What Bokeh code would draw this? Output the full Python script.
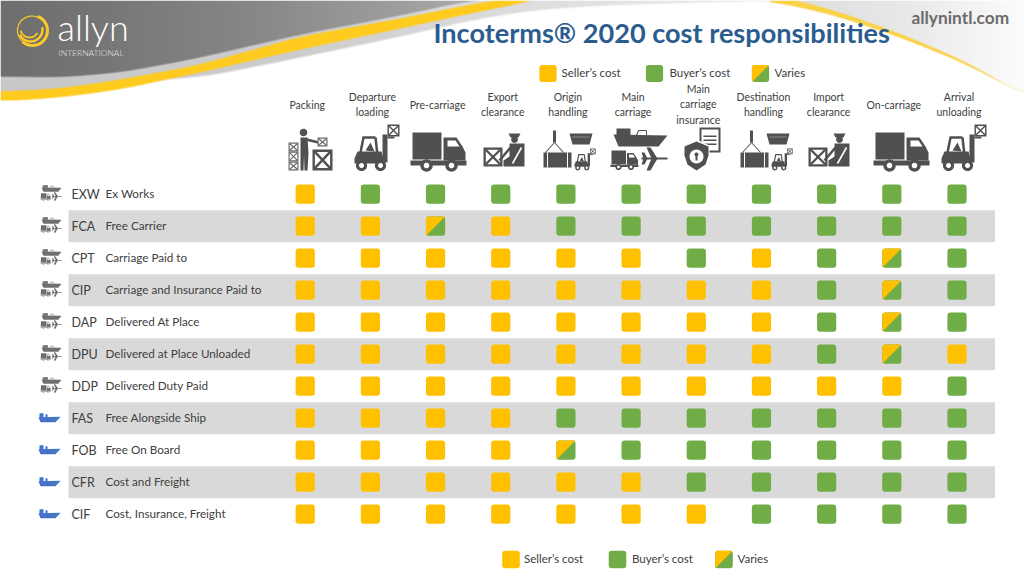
import numpy as np
from bokeh.core.properties import value
from bokeh.embed import file_html
from bokeh.models import Range1d
from bokeh.plotting import figure
from bokeh.resources import INLINE

TITLE = "Incoterms® 2020 cost responsibilities"
COLUMNS = ["Packing", "Departure\nloading", "Pre-carriage", "Export\nclearance", "Origin\nhandling",
           "Main\ncarriage", "Main\ncarriage\ninsurance", "Destination\nhandling", "Import\nclearance",
           "On-carriage", "Arrival\nunloading"]
CODES = ["EXW", "FCA", "CPT", "CIP", "DAP", "DPU", "DDP", "FAS", "FOB", "CFR", "CIF"]
NAMES = ["Ex Works", "Free Carrier", "Carriage Paid to", "Carriage and Insurance Paid to", "Delivered At Place",
         "Delivered at Place Unloaded", "Delivered Duty Paid", "Free Alongside Ship", "Free On Board",
         "Cost and Freight", "Cost, Insurance, Freight"]
MODES = ["any", "any", "any", "any", "any", "any", "any", "sea", "sea", "sea", "sea"]
# S seller, B buyer, V varies
EXW = list("SBBBBBBBBBB")
FCA = list("SSVSBBBBBBB")
CPT = list("SSSSSSBSBVB")
CIP = list("SSSSSSSSBVB")
DAP = list("SSSSSSSSBVB")
DPU = list("SSSSSSSSBVS")
DDP = list("SSSSSSSSSSB")
FAS = list("SSSSBBBBBBB")
FOB = list("SSSSVBBBBBB")
CFR = list("SSSSSSBBBBB")
CIF = list("SSSSSSSBBBB")
TERMS = [EXW, FCA, CPT, CIP, DAP, DPU, DDP, FAS, FOB, CFR, CIF]
LEGEND_LABELS = ["Seller’s cost", "Buyer’s cost", "Varies"]
LEGEND_CODES = ["S", "B", "V"]

YELLOW = "#ffc000"
GREEN = "#70ad47"
BAND = "#d9d9d9"
TEXT = "#404040"
ICON = "#505052"
FONT = value("Lato")
LIGHT_FONT = value("Lato Light, Lato")

# reference pixel of cell (0, 0) and step between cells
X0, DX = 304.7, 65.18
Y0, DY = 193.7, 32.0
CELL = 9.6
W, H = 1024, 576


def rounded_half(s, r):
    # top left half of a rounded square, offsets in pixels
    a = np.linspace(np.pi * 1.5, np.pi, 7)
    xs = [s] + list(-s + r + r * np.cos(a)) + [-s]
    ys = [-s] + list(-s + r + r * np.sin(a)) + [s]
    return np.array(xs), np.array(ys)


p = figure(width=W, height=H, output_backend="svg", toolbar_location=None, min_border=0,
           x_range=Range1d(-X0 / DX, (W - X0) / DX), y_range=Range1d((H - Y0) / DY, -Y0 / DY))
p.extra_x_ranges["px"] = Range1d(0, W)
p.extra_y_ranges["px"] = Range1d(H, 0)
p.axis.visible = False
p.grid.visible = False
p.outline_line_color = None
p.background_fill_color = "white"
p.border_fill_color = "white"
PX = dict(x_range_name="px", y_range_name="px")


# banner, painted as a small picture because of its gradients
def banner():
    w, h = 1024, 100
    X, Y = np.meshgrid(np.arange(w) + 0.5, np.arange(h) + 0.5)
    xs = X[0]

    def curve(knots):
        k = np.array(knots, dtype=float)
        c = np.interp(xs, k[:, 0], k[:, 1])
        return np.convolve(np.pad(c, 25, mode="edge"), np.ones(51) / 51, mode="valid")

    def above(c, soft=1.3):
        return np.clip((c - Y) / soft + 0.5, 0, 1)

    dark_bot = curve([(0, 76), (60, 77), (120, 72), (180, 61), (200, 57), (300, 34), (400, 15), (470, 0), (1024, -30)])
    yel_top = curve([(0, 91), (60, 88), (120, 79), (180, 68), (200, 64), (300, 36), (400, 18), (470, 4), (525, -5), (1024, -30)])
    yel_bot = curve([(0, 101), (60, 97), (120, 89), (180, 76), (200, 72), (300, 49), (400, 28), (470, 13), (525, 2), (560, -8), (1024, -30)])
    light_bot = curve([(0, 101), (180, 77), (200, 77), (300, 57), (400, 36), (470, 20), (530, 10), (600, 5), (700, 2),
                       (775, 0), (833, 12), (900, 35), (967, 63), (1010, 87), (1024, 95)])
    sw_mid = curve([(770, -3), (833, 12), (900, 35), (967, 63), (1010, 87), (1024, 95)])
    sw_half = np.interp(xs, [770, 833, 900, 967, 1010], [3.5, 2.6, 2, 1.2, 0.1])

    img = np.full((h, w, 3), 255.0)
    light = np.interp(xs, [0, 300, 500, 700, 800, 900, 1024], [200, 205, 220, 232, 222, 232, 252])
    dark = np.interp(xs, [0, 100, 250, 400, 470], [110, 118, 135, 158, 170])

    def paint(color, mask):
        for i in range(3):
            c = color[i] if isinstance(color, tuple) else color
            img[:, :, i] = img[:, :, i] * (1 - mask) + c * mask

    paint(light, above(light_bot, 2.0))
    paint(dark, above(dark_bot))
    paint((255, 203, 31), above(yel_bot) * (1 - above(yel_top)))
    sw = np.clip(sw_half - np.abs(Y - sw_mid) + 0.5, 0, 1) * (xs > 770)
    paint((250, 210, 70), sw)

    rgba = np.zeros((h, w), dtype=np.uint32)
    view = rgba.view(dtype=np.uint8).reshape((h, w, 4))
    view[:, :, :3] = img.astype(np.uint8)
    view[:, :, 3] = 255
    return rgba


p.image_rgba(image=[banner()], x=0, y=0, dw=1024, dh=100, **PX)

# icon shapes, drawn in order so white can cut into the dark parts
shape_x, shape_y, shape_c = [], [], []


def add(pts, ox, oy, s, color):
    shape_x.append([ox + s * a for a, b in pts])
    shape_y.append([oy + s * b for a, b in pts])
    shape_c.append(color)


def box(x0, y0, x1, y1):
    return [(x0, y0), (x1, y0), (x1, y1), (x0, y1)]


def seg(x0, y0, x1, y1, w):
    n = np.hypot(x1 - x0, y1 - y0)
    ax, ay = -(y1 - y0) / n * w / 2, (x1 - x0) / n * w / 2
    return [(x0 + ax, y0 + ay), (x1 + ax, y1 + ay), (x1 - ax, y1 - ay), (x0 - ax, y0 - ay)]


def disc(cx, cy, r):
    return [(cx + r * np.cos(t), cy + r * np.sin(t)) for t in np.linspace(0, 2 * np.pi, 24)]


def crate(x0, y0, x1, y1, ox, oy, s, color):
    t = (x1 - x0) * 0.12
    add(box(x0, y0, x1, y1), ox, oy, s, color)
    add(box(x0 + t, y0 + t, x1 - t, y1 - t), ox, oy, s, "white")
    add(seg(x0 + t, y0 + t, x1 - t, y1 - t, t), ox, oy, s, color)
    add(seg(x1 - t, y0 + t, x0 + t, y1 - t, t), ox, oy, s, color)


def wheel(cx, cy, r, ox, oy, s, color):
    add(disc(cx, cy, r), ox, oy, s, color)
    add(disc(cx, cy, r * 0.45), ox, oy, s, "white")


def truck(ox, oy, s=1.0, color=ICON):
    add(box(2, 0, 31, 27), ox, oy, s, color)
    add([(33, 5), (46, 5), (52, 14), (55, 20), (55, 28), (33, 28)], ox, oy, s, color)
    add([(37, 8), (45, 8), (49, 14), (37, 14)], ox, oy, s, "white")
    add(box(0, 28, 56, 33), ox, oy, s, color)
    wheel(16, 33, 6.2, ox, oy, s, color)
    wheel(41, 33, 6.2, ox, oy, s, color)


def forklift(ox, oy, s=1.0, color=ICON):
    crate(33, 0, 45, 12, ox, oy, s, color)
    add(box(28, 10, 33, 38), ox, oy, s, color)
    add(box(33, 12, 40, 14), ox, oy, s, color)
    add(seg(6, 28, 9, 13, 2.5), ox, oy, s, color)
    add(seg(8, 13, 21, 13, 2.5), ox, oy, s, color)
    add(seg(21, 13, 23, 31, 2.5), ox, oy, s, color)
    add([(11, 26), (16, 18), (20, 27)], ox, oy, s, color)
    add([(0, 34), (3, 27), (27, 27), (30, 39), (0, 39)], ox, oy, s, color)
    wheel(7, 41, 5.6, ox, oy, s, color)
    wheel(26, 41, 5.6, ox, oy, s, color)


def packer(ox, oy, s=1.0, color=ICON):
    crate(0, 15, 10, 24, ox, oy, s, "#6a6a6c")
    crate(0, 24, 10, 34, ox, oy, s, "#6a6a6c")
    crate(0, 34, 10, 43, ox, oy, s, "#6a6a6c")
    add(disc(15, 5, 3.8), ox, oy, s, color)
    add([(12, 10), (19, 10), (20, 26), (19, 43), (16, 43), (15.5, 28), (15, 43), (12, 43)], ox, oy, s, color)
    add(seg(18, 12, 30, 15, 2.5), ox, oy, s, color)
    crate(29, 10, 39, 19, ox, oy, s, "#6a6a6c")
    crate(24, 22, 44, 43, ox, oy, s, color)


def officer(ox, oy, s=1.0, color=ICON):
    crate(0, 15, 19, 34, ox, oy, s, color)
    add([(25, 1), (37, 1), (35, 5), (27, 5)], ox, oy, s, color)
    add(disc(31, 7, 3.4), ox, oy, s, color)
    add([(26, 11), (41, 11), (41, 34), (20, 34), (20, 28), (26, 24)], ox, oy, s, color)
    add(seg(29, 31, 38, 15, 1.6), ox, oy, s, "white")
    add(seg(16, 28, 27, 15, 2.5), ox, oy, s, color)


def handling(ox, oy, s=1.0, color=ICON):
    add(seg(11, 2, 11, 14, 3), ox, oy, s, color)
    add(seg(11, 14, 2, 24, 1), ox, oy, s, color)
    add(seg(11, 14, 20, 24, 1), ox, oy, s, color)
    add(box(0, 24, 28, 39), ox, oy, s, color)
    add(box(3.5, 24, 4.5, 39), ox, oy, s, "white")
    add(box(23.5, 24, 24.5, 39), ox, oy, s, "white")
    add([(26, 5), (49, 5), (46, 16), (29, 16)], ox, oy, s, color)
    add(box(29, 8, 46, 9), ox, oy, s, "#8a8a8c")
    forklift(ox + 31 * s, oy + 20 * s, 0.47 * s, color)


def carriage(ox, oy, s=1.0, color=ICON):
    add([(3, 6), (57, 7), (48, 18), (8, 18)], ox, oy, s, color)
    add(box(6, 0, 20, 7), ox, oy, s, color)
    add(seg(26, 7, 28, 2, 1), ox, oy, s, color)
    add(seg(28, 2, 36, 2, 1), ox, oy, s, color)
    add(seg(36, 2, 36, 7, 1), ox, oy, s, color)
    truck(ox, oy + 22 * s, 0.5 * s, color)
    add(seg(31, 30, 57, 30, 2.2), ox, oy, s, color)
    add([(41, 30), (36, 19), (40, 19), (47, 30), (40, 42), (36, 42)], ox, oy, s, color)
    add([(31, 24), (34, 24), (37, 30), (34, 36), (31, 36), (33, 30)], ox, oy, s, color)


def insurance(ox, oy, s=1.0, color=ICON):
    add(box(16, 0, 37, 25), ox, oy, s, color)
    add(box(18, 2, 35, 23), ox, oy, s, "white")
    for ly in (8, 12, 16):
        add(box(20, ly, 33, ly + 1.5), ox, oy, s, color)
    add([(13, 12), (26, 18), (26, 28), (22, 37), (13, 43), (4, 37), (0, 28), (0, 18)], ox, oy, s, "white")
    add([(13, 14), (25, 19), (25, 28), (22, 37), (13, 43), (4, 37), (1, 28), (1, 19)], ox, oy, s, color)
    add(disc(13, 29, 7), ox, oy, s, "white")
    add(disc(13, 27, 2), ox, oy, s, color)
    add(box(12, 27, 14, 33), ox, oy, s, color)


packer(288, 127)
forklift(354, 124)
truck(410, 132)
officer(483, 132)
handling(543, 128)
carriage(610, 128)
insurance(683, 127)
handling(740, 128)
officer(808, 132)
truck(873, 132)
forklift(941, 124)

# small mode icon in front of each term
for j, mode in enumerate(MODES):
    row_y = Y0 + DY * j
    if mode == "any":
        carriage(40, row_y - 9, 0.37, "#6e6e70")
    else:
        add([(38, row_y - 1), (60, row_y - 1.5), (55, row_y + 4), (40, row_y + 4)], 0, 0, 1, "#4472c4")
        add(box(39, row_y - 5, 43, row_y), 0, 0, 1, "#4472c4")
        add(box(45, row_y - 4, 47, row_y), 0, 0, 1, "#4472c4")

# logo rings
for r, w, sa, sb, cx, cy in [(15, 3.0, -1.2, 2.3, 32, 30), (12, 2.4, -0.2, 2.7, 30, 29), (9, 1.8, 0.5, 2.9, 29, 28),
                             (14.5, 1.2, 2.3, 5.2, 31.5, 30)]:
    t = np.linspace(sa, sb, 30)
    pts = [(cx + (r + w / 2) * np.cos(a), cy + (r + w / 2) * np.sin(a)) for a in t]
    pts += [(cx + (r - w / 2) * np.cos(a), cy + (r - w / 2) * np.sin(a)) for a in t[::-1]]
    add(pts, 0, 0, 1, "#fbc92a")

p.patches(xs=shape_x, ys=shape_y, fill_color=shape_c, line_color=None, **PX)

# grey bands behind every other term
band_rows = list(range(1, len(CODES), 2))
p.quad(left=(68 - X0) / DX, right=(994.5 - X0) / DX, bottom=[j + 0.5 for j in band_rows],
       top=[j - 0.5 for j in band_rows], fill_color=BAND, line_color=None)

# the cells
cell_x, cell_y, cell_c = [], [], []
for j, row in enumerate(TERMS):
    for i, code in enumerate(row):
        cell_x.append(i)
        cell_y.append(j)
        cell_c.append(YELLOW if code == "S" else GREEN)
hw, hh = CELL / DX, CELL / DY
p.quad(left=[v - hw for v in cell_x], right=[v + hw for v in cell_x], bottom=[v + hh for v in cell_y],
       top=[v - hh for v in cell_y], fill_color=cell_c, line_color=None, border_radius=3)

tx, ty = rounded_half(CELL, 3)
var_x, var_y = [], []
for j, row in enumerate(TERMS):
    for i, code in enumerate(row):
        if code == "V":
            var_x.append(list(i + tx / DX))
            var_y.append(list(j + ty / DY))
p.patches(xs=var_x, ys=var_y, fill_color=YELLOW, line_color=None)

# legends, top and bottom
for lx, tx_l, ly, half in [((547.5, 654, 760), (561, 669, 774), 73, 8.6), ((510.5, 617, 723.5), (523.5, 631.5, 737), 559, 8.8)]:
    colors = [YELLOW if c == "S" else GREEN for c in LEGEND_CODES]
    p.quad(left=[v - half for v in lx], right=[v + half for v in lx], top=[ly - half] * 3, bottom=[ly + half] * 3,
           fill_color=colors, line_color=None, border_radius=3, **PX)
    ax, ay = rounded_half(half, 3)
    for v, c in zip(lx, LEGEND_CODES):
        if c == "V":
            p.patch(x=list(v + ax), y=list(ly + ay), fill_color=YELLOW, line_color=None, **PX)
    p.text(x=list(tx_l), y=[ly - 0.7] * 3, text=LEGEND_LABELS, text_font=FONT, text_font_size="11.5px", text_color=TEXT,
           text_baseline="middle", **PX)

# texts
p.text(x=list(range(len(COLUMNS))), y=[(104 - Y0) / DY] * len(COLUMNS), text=COLUMNS, x_offset=2, text_font=FONT,
       text_font_size="10.5px", text_color=TEXT, text_align="center", text_baseline="middle", text_line_height=1.32)
rows = list(range(len(CODES)))
p.text(x=[71] * len(rows), y=[Y0 + DY * j for j in rows], text=CODES, text_font=FONT, text_font_size="12.5px",
       text_color=TEXT, text_baseline="middle", **PX)
p.text(x=[105] * len(rows), y=[Y0 - 1 + DY * j for j in rows], text=NAMES, text_font=FONT, text_font_size="11.7px",
       text_color=TEXT, text_baseline="middle", **PX)

p.text(x=[433], y=[31.5], text=[TITLE], text_font=FONT, text_font_style="bold", text_font_size="27.1px",
       text_color="#2b5c8f", text_baseline="middle", **PX)
p.text(x=[57], y=[26], text=["allyn"], text_font=LIGHT_FONT, text_font_size="36px", text_color="white",
       text_baseline="alphabetic", **PX)
p.text(x=[58], y=[52], text=["INTERNATIONAL"], text_font=LIGHT_FONT, text_font_size="8.5px", text_color="#e4e4e4",
       text_baseline="middle", **PX)
p.text(x=[911], y=[17], text=["allynintl.com"], text_font=FONT, text_font_style="bold",
       text_font_size="17.3px", text_color="#6b6b6d", text_baseline="middle", **PX)

open("out.html", "w").write(file_html(p, INLINE))
